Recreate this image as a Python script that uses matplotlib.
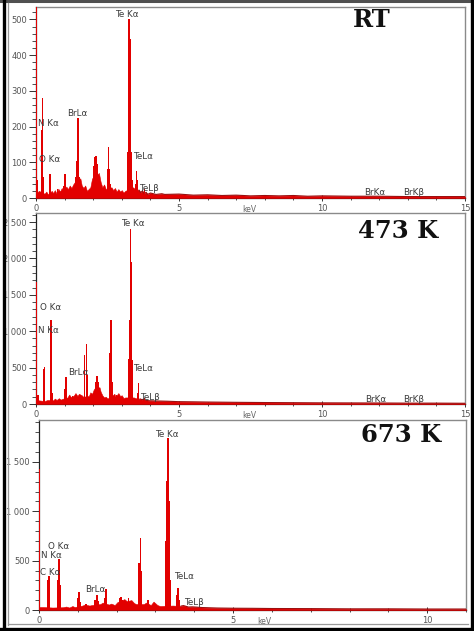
import matplotlib
matplotlib.use('Agg')
import matplotlib.pyplot as plt
from matplotlib.lines import Line2D
from matplotlib.ticker import MultipleLocator, FuncFormatter

# ---------------- data ----------------
# RT : continuum (noisy background) and the peak bars on top of it
rt_bg_kev = [0.0, 0.1, 0.3, 0.36, 0.42, 0.55, 0.6, 0.66, 0.72, 0.78, 0.84, 0.9, 0.96, 1.06,
             1.12, 1.18, 1.24, 1.3, 1.36, 1.55, 1.6, 1.66, 1.72, 1.78, 1.84, 1.9, 1.96,
             2.2, 2.26, 2.32, 2.38, 2.44, 2.64, 2.7, 2.76, 2.82, 2.88, 2.94, 3.0, 3.06,
             3.12, 3.4, 3.45, 3.6, 3.66, 3.72, 3.78, 3.85, 3.9, 4.0, 4.2, 4.4, 4.5, 5.0,
             5.5, 6.0, 6.5, 7.0, 7.5, 8.0, 8.5, 9.0, 9.5, 10.0, 11.0, 12.0, 13.0, 14.0, 15.0]
rt_bg_counts = [12, 20, 12, 18, 10, 20, 14, 22, 12, 26, 18, 28, 20, 32,
                25, 35, 28, 38, 45, 55, 35, 28, 35, 20, 25, 30, 55,
                70, 45, 30, 38, 25, 30, 22, 28, 18, 25, 18, 22, 15,
                20, 30, 25, 22, 15, 20, 12, 16, 10, 14, 10, 12, 10, 11,
                8, 9, 7, 8, 6, 7, 6, 7, 5, 6, 5, 5, 4, 4, 4]
rt_peak_kev = [0.0, 0.04, 0.20, 0.233, 0.26, 0.47, 0.49, 0.75, 0.98, 1.01, 1.40, 1.43, 1.46,
               1.49, 1.52, 2.03, 2.07, 2.10, 2.13, 2.17, 2.50, 2.53, 2.56, 2.60, 3.20,
               3.23, 3.26, 3.29, 3.32, 3.36, 3.49, 3.52, 3.55, 3.80]
rt_peak_counts = [1500, 50, 190, 281, 60, 40, 67, 25, 35, 67, 60, 105, 225,
                  120, 60, 90, 115, 119, 95, 60, 80, 144, 80, 40, 130,
                  280, 500, 445, 130, 50, 40, 77, 50, 25]

# 473 K
k473_bg_kev = [0.0, 0.1, 0.3, 0.4, 0.6, 0.66, 0.72, 0.8, 0.86, 0.92, 1.1, 1.16, 1.22, 1.32,
               1.38, 1.45, 1.5, 1.6, 1.65, 1.85, 1.9, 1.96, 2.02, 2.06, 2.22, 2.26, 2.32,
               2.38, 2.44, 2.5, 2.68, 2.74, 2.78, 2.88, 2.94, 3.0, 3.06, 3.12, 3.42, 3.48,
               3.64, 3.7, 3.76, 3.85, 3.95, 4.2, 4.6, 5.0, 5.5, 6.0, 6.5, 7.0, 8.0, 9.0,
               10.0, 11.0, 12.0, 13.0, 14.0, 15.0]
k473_bg_counts = [60, 50, 40, 55, 50, 75, 55, 80, 60, 70, 90, 130, 95, 115,
                  150, 110, 140, 120, 100, 110, 160, 140, 200, 220, 230, 170, 120,
                  90, 100, 75, 120, 140, 100, 150, 110, 120, 80, 90, 90, 80,
                  70, 60, 65, 50, 45, 42, 38, 32, 30, 27, 25, 23, 20, 18,
                  16, 15, 14, 12, 12, 10]
k473_peak_kev = [0.0, 0.07, 0.27, 0.29, 0.50, 0.53, 0.56, 1.02, 1.05, 1.27, 1.55, 1.70,
                 1.76, 1.79, 2.10, 2.13, 2.16, 2.20, 2.59, 2.62, 2.65, 2.82, 3.24, 3.27,
                 3.30, 3.33, 3.36, 3.55, 3.58, 3.80]
k473_peak_counts = [1680, 123, 480, 503, 680, 1156, 150, 200, 375, 110, 130, 680,
                    827, 400, 300, 384, 300, 200, 700, 1152, 300, 130, 620, 1150,
                    2409, 1952, 600, 150, 283, 80]

# 673 K
k673_bg_kev = [0.0, 0.1, 0.35, 0.62, 0.7, 0.78, 0.86, 0.92, 1.12, 1.18, 1.3, 1.36, 1.58,
               1.64, 1.8, 1.86, 1.95, 2.02, 2.2, 2.26, 2.38, 2.45, 2.5, 2.7, 2.76, 2.88,
               2.95, 3.05, 3.12, 3.45, 3.66, 3.72, 3.85, 3.95, 4.2, 4.6, 5.0, 5.5, 6.0,
               7.0, 8.0, 9.0, 10.0, 11.0]
k673_bg_counts = [30, 30, 25, 28, 35, 25, 40, 30, 45, 55, 45, 50, 60,
                  75, 55, 65, 50, 80, 110, 90, 100, 70, 60, 60, 75, 50,
                  85, 50, 40, 45, 40, 45, 30, 32, 25, 20, 18, 17, 15,
                  14, 12, 12, 10, 10]
k673_peak_kev = [0.0, 0.22, 0.25, 0.27, 0.49, 0.52, 0.55, 1.00, 1.03, 1.06, 1.21, 1.45,
                 1.49, 1.53, 1.70, 1.73, 2.08, 2.11, 2.15, 2.31, 2.58, 2.61, 2.64, 2.81,
                 3.26, 3.29, 3.32, 3.35, 3.38, 3.55, 3.58, 3.61, 3.77]
k673_peak_counts = [1429, 300, 349, 200, 300, 518, 250, 120, 186, 80, 60, 100,
                    152, 90, 120, 210, 120, 135, 100, 118, 474, 728, 400, 100,
                    700, 1304, 1744, 1100, 300, 150, 220, 100, 40]

RED = '#e20000'
TAIL = '#9b1010'
TXT = '#3a3a3a'


def fmt_counts(v, pos):
    return f'{int(v):,}'.replace(',', ' ')


def draw_panel(rect, bg_kev, bg_counts, peak_kev, peak_counts, xmax, ymax,
               ymajor, yminor, bar_w, title, title_pos, labels, kev_x):
    ax = fig.add_axes(rect)
    # continuum and the peaks on top of it
    ax.fill_between(bg_kev, 0, bg_counts, color=RED, linewidth=0.4, edgecolor=RED, zorder=3)
    tail_k = [k for k in bg_kev if k >= 3.6]
    tail_c = [c for k, c in zip(bg_kev, bg_counts) if k >= 3.6]
    ax.plot(tail_k, tail_c, color=TAIL, linewidth=0.8, zorder=3)
    ax.bar(peak_kev, peak_counts, width=bar_w, color=RED, linewidth=0, zorder=3)

    ax.set_xlim(0, xmax)
    ax.set_ylim(0, ymax)
    ax.xaxis.set_major_locator(MultipleLocator(5))
    ax.xaxis.set_minor_locator(MultipleLocator(1))
    ax.yaxis.set_major_locator(MultipleLocator(ymajor))
    ax.yaxis.set_minor_locator(MultipleLocator(yminor))
    ax.yaxis.set_major_formatter(FuncFormatter(fmt_counts))
    ax.tick_params(axis='both', which='major', direction='out', length=5, width=0.7,
                   labelsize=6, labelcolor='#555555', color='#333333', pad=1.5)
    ax.tick_params(axis='both', which='minor', direction='out', length=3, width=0.6,
                   color='#333333')
    ax.tick_params(axis='x', which='both', direction='inout')

    for side in ['left', 'bottom']:
        ax.spines[side].set_color('#222222')
        ax.spines[side].set_linewidth(0.9)
    for side in ['top', 'right']:
        ax.spines[side].set_color('#8a8a8a')
        ax.spines[side].set_linewidth(1.0)

    # peak labels
    for text, x, y, ha in labels:
        ax.text(x, y, text, fontsize=6.3, color=TXT, ha=ha, va='center', zorder=4)

    ax.text(kev_x, -0.035, 'keV', fontsize=5.5, color='#666666', ha='center', va='top',
            transform=ax.get_xaxis_transform())

    ax.text(title_pos[0], title_pos[1], title, transform=ax.transAxes,
            fontsize=17.5, fontweight='bold', family='DejaVu Serif',
            ha='center', va='center', color='#111111')
    return ax


fig = plt.figure(figsize=(4.74, 6.31), dpi=100)

W, H = 474.0, 631.0


def px_rect(left, top, right, bottom):
    return [left / W, 1 - bottom / H, (right - left) / W, (bottom - top) / H]


rt_labels = [('Te Kα', 3.18, 515, 'center'), ('BrLα', 1.08, 238, 'left'),
             ('N Kα', 0.08, 210, 'left'), ('O Kα', 0.1, 109, 'left'),
             ('TeLα', 3.39, 115, 'left'), ('TeLβ', 3.6, 28, 'left'),
             ('BrKα', 11.47, 16, 'left'), ('BrKβ', 12.83, 16, 'left')]
draw_panel(px_rect(36, 7, 465, 198), rt_bg_kev, rt_bg_counts, rt_peak_kev, rt_peak_counts,
           15, 535, 100, 20, 0.055, 'RT', (0.783, 0.93), rt_labels, 7.45)

k473_labels = [('Te Kα', 3.39, 2486, 'center'), ('O Kα', 0.14, 1332, 'left'),
               ('N Kα', 0.08, 1003, 'left'), ('BrLα', 1.12, 426, 'left'),
               ('TeLα', 3.39, 481, 'left'), ('TeLβ', 3.64, 96, 'left'),
               ('BrKα', 11.5, 65, 'left'), ('BrKβ', 12.83, 65, 'left')]
draw_panel(px_rect(36, 213, 465, 404), k473_bg_kev, k473_bg_counts, k473_peak_kev,
           k473_peak_counts, 15, 2624, 500, 100, 0.055, '473 K', (0.844, 0.905),
           k473_labels, 7.45)

k673_labels = [('Te Kα', 3.3, 1783, 'center'), ('O Kα', 0.23, 648, 'left'),
               ('N Kα', 0.06, 557, 'left'), ('C Kα', 0.02, 375, 'left'),
               ('BrLα', 1.19, 203, 'left'), ('TeLα', 3.48, 344, 'left'),
               ('TeLβ', 3.74, 71, 'left')]
draw_panel(px_rect(39, 420, 466, 610), k673_bg_kev, k673_bg_counts, k673_peak_kev,
           k673_peak_counts, 11, 1925, 500, 100, 0.042, '673 K', (0.848, 0.92),
           k673_labels, 5.8)


# outer frame of the figure
def fig_line(x0, y0, x1, y1, color, lw):
    fig.add_artist(Line2D([x0 / W, x1 / W], [1 - y0 / H, 1 - y1 / H],
                          transform=fig.transFigure, color=color, linewidth=lw))


fig_line(0, 1, W, 1, '#505050', 2.2)
fig_line(4, 0, 4, H, '#000000', 2.4)
fig_line(8, 3, 8, 625, '#9a9a9a', 0.9)
fig_line(471.5, 0, 471.5, H, '#000000', 2.4)
fig_line(0, 628.5, W, 628.5, '#000000', 2.4)
fig_line(8, 624, 468, 624, '#9a9a9a', 0.9)

plt.savefig('out.png', dpi=100)
plt.close(fig)
